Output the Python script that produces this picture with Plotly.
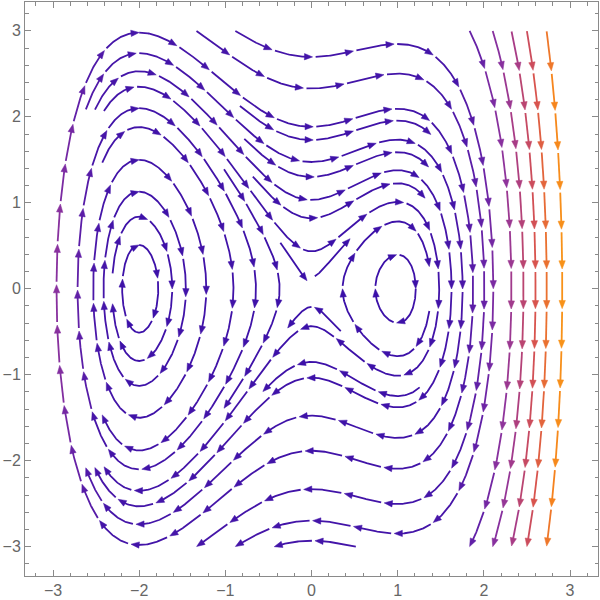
import numpy as np
import plotly.graph_objects as go

# ---------------- data ----------------
# Vector field (Hamiltonian):  dx/dt = y ,  dy/dt = -(x^3 + x^2 - 2 x)
u_coef_y = 1.0
v_poly = [-1.0, -1.0, 2.0, 0.0]          # coefficients of x^3, x^2, x, 1

x_range = [-3.0, 3.0]
y_range = [-3.0, 3.0]

# streamline seed points (processed in this order)
seeds_left_x = -2.0
seeds_left_y = [2.98, 2.74, 2.53, 2.35, 2.10, 1.88, 1.50, 1.13, 0.84, 0.51,
                -0.53, -0.82, -1.14, -1.51, -1.91, -2.11, -2.37, -2.59, -2.77, -2.99]
seeds_right_x = [2.91, 2.73, 2.60, 2.46, 2.32, 2.11, 2.0, 1.88, 1.64, 1.48, 1.21, 0.36]
seeds_mid_y = [2.74, 2.33, 1.93, 1.73, 1.52, 1.30, 1.09, 0.82, 0.51,
               -0.21, -0.50, -0.85, -1.14, -1.54, -1.91, -2.32, -2.72, -2.93]
seeds_left_axis_x = [-2.95, -2.83, -2.64, -2.52, -2.41, -2.19, -1.76, -1.625,
                     -1.44, -1.21, -0.88, -0.62, -0.37]
# separatrix branches next to the saddle
extra_seeds_x = [-0.25, 0.30, 0.30, -0.25]
extra_seeds_y = [0.37, 0.42, -0.42, -0.37]

# speed colour scale (normalised speed -> colour)
color_stops = [0.0, 0.15, 0.27, 0.37, 0.45, 0.63, 0.80, 1.0]
color_rgb = [(58, 16, 168), (72, 22, 168), (106, 35, 166), (138, 50, 158),
             (162, 58, 140), (215, 82, 80), (245, 130, 30), (250, 160, 20)]

tick_vals = [-3, -2, -1, 0, 1, 2, 3]

# ---------------- streamline computation ----------------
def field(p):
    x, y = p
    return np.array([u_coef_y * y, np.polyval(v_poly, x)])

def speed(p):
    return float(np.hypot(*field(p)))

smax = max(speed((x, y)) for x in np.linspace(*x_range, 61) for y in np.linspace(*y_range, 61))

def unit(p):
    f = field(p)
    n = np.hypot(*f)
    return f / n if n > 1e-9 else np.zeros(2)

DS = 0.01
DTEST = 0.10
DSEED = 0.12
VMIN = 0.14

class Grid:
    def __init__(self, h):
        self.h = h
        self.cells = {}
    def key(self, p):
        return (int(np.floor(p[0] / self.h)), int(np.floor(p[1] / self.h)))
    def add(self, p):
        self.cells.setdefault(self.key(p), []).append(p)
    def near(self, p, d):
        i, j = self.key(p)
        for a in (i - 1, i, i + 1):
            for b in (j - 1, j, j + 1):
                for q in self.cells.get((a, b), ()):
                    if (q[0] - p[0]) ** 2 + (q[1] - p[1]) ** 2 < d * d:
                        return True
        return False

grid = Grid(max(DTEST, DSEED))

def inside(p):
    return x_range[0] <= p[0] <= x_range[1] and y_range[0] <= p[1] <= y_range[1]

def integrate(seed, direction):
    p = np.array(seed, float)
    pts = []
    length = 0.0
    closed = False
    for _ in range(4000):
        k1 = unit(p)
        k2 = unit(p + 0.5 * DS * direction * k1)
        k3 = unit(p + 0.5 * DS * direction * k2)
        k4 = unit(p + DS * direction * k3)
        step = direction * (k1 + 2 * k2 + 2 * k3 + k4) / 6.0
        if np.hypot(*step) < 1e-6:
            break
        q = p + DS * step
        if not inside(q) or speed(q) < VMIN:
            break
        if grid.near(q, DTEST):
            break
        length += DS
        if length > 0.3 and np.hypot(q[0] - seed[0], q[1] - seed[1]) < 1.5 * DS:
            pts.append(np.array(seed, float))
            closed = True
            break
        pts.append(q)
        p = q
    return pts, closed

seeds = [(seeds_left_x, y) for y in seeds_left_y] + \
        [(x, 0.0) for x in seeds_right_x] + \
        [(0.0, y) for y in seeds_mid_y] + \
        [(x, 0.0) for x in seeds_left_axis_x] + \
        list(zip(extra_seeds_x, extra_seeds_y))

lines = []
for s in seeds:
    if grid.near(s, DSEED):
        continue
    fwd, closed = integrate(s, 1.0)
    if closed:
        line = [np.array(s, float)] + fwd
    else:
        bwd, _ = integrate(s, -1.0)
        line = bwd[::-1] + [np.array(s, float)] + fwd
    line = np.array(line)
    if len(line) < 15:
        continue
    for q in line:
        grid.add(q)
    lines.append(line)

# ---------------- arrows / segments ----------------
def color_of(t):
    t = min(max(t, 0.0), 1.0)
    for i in range(len(color_stops) - 1):
        if t <= color_stops[i + 1]:
            f = (t - color_stops[i]) / (color_stops[i + 1] - color_stops[i])
            c = [color_rgb[i][k] + f * (color_rgb[i + 1][k] - color_rgb[i][k]) for k in range(3)]
            return "rgb(%d,%d,%d)" % tuple(int(round(v)) for v in c)
    return "rgb(%d,%d,%d)" % color_rgb[-1]

LSEG = 0.47
GAP = 0.035
ALEN = 0.095
AHW = 0.037
NBINS = 48

seg_x = {}
seg_y = {}
arr_x = {}
arr_y = {}

def interp(line, s_cum, s):
    return np.array([np.interp(s, s_cum, line[:, 0]), np.interp(s, s_cum, line[:, 1])])

for line in lines:
    d = np.hypot(np.diff(line[:, 0]), np.diff(line[:, 1]))
    s_cum = np.concatenate([[0], np.cumsum(d)])
    L = s_cum[-1]
    n = max(1, int(round(L / LSEG)))
    sl = L / n
    for k in range(n):
        s0 = k * sl + (GAP if k > 0 else 0.0)
        s1 = (k + 1) * sl
        mid = interp(line, s_cum, 0.5 * (s0 + s1))
        b = int(min(NBINS - 1, speed(mid) / smax * NBINS))
        ss = np.linspace(s0, s1 - 0.6 * ALEN, max(3, int((s1 - s0) / 0.01)))
        xs = np.interp(ss, s_cum, line[:, 0])
        ys = np.interp(ss, s_cum, line[:, 1])
        seg_x.setdefault(b, []).extend(list(xs) + [None])
        seg_y.setdefault(b, []).extend(list(ys) + [None])
        tip = interp(line, s_cum, s1)
        base = interp(line, s_cum, max(0.0, s1 - ALEN))
        dv = tip - base
        nv = np.hypot(*dv)
        if nv < 1e-9:
            continue
        dv = dv / nv
        base = tip - dv * ALEN
        nrm = np.array([-dv[1], dv[0]])
        p1 = base + nrm * AHW
        p2 = base - nrm * AHW
        arr_x.setdefault(b, []).extend([tip[0], p1[0], p2[0], tip[0], None])
        arr_y.setdefault(b, []).extend([tip[1], p1[1], p2[1], tip[1], None])

fig = go.Figure()
for b in sorted(seg_x):
    col = color_of((b + 0.5) / NBINS)
    fig.add_trace(go.Scatter(x=seg_x[b], y=seg_y[b], mode="lines",
                             line=dict(color=col, width=1.8), hoverinfo="skip",
                             showlegend=False))
for b in sorted(arr_x):
    col = color_of((b + 0.5) / NBINS)
    fig.add_trace(go.Scatter(x=arr_x[b], y=arr_y[b], mode="lines", fill="toself",
                             fillcolor=col, line=dict(color=col, width=0.5),
                             hoverinfo="skip", showlegend=False))

axis_common = dict(
    showgrid=False, zeroline=False, showline=True, linecolor="#8a8a8a", linewidth=1,
    mirror="ticks", ticks="inside", ticklen=6, tickcolor="#8a8a8a", tickwidth=1,
    tickvals=tick_vals, tickfont=dict(family="Liberation Sans, Arial, sans-serif",
                                      size=16, color="#666666"),
    minor=dict(ticks="inside", ticklen=3.5, dtick=0.2, tickcolor="#8a8a8a", tickwidth=1),
)
fig.update_xaxes(range=[-3.325, 3.325], **axis_common)
fig.update_yaxes(range=[-3.34, 3.335], **axis_common)
fig.update_layout(width=600, height=600, margin=dict(l=25, r=1, t=1, b=23),
                  plot_bgcolor="white", paper_bgcolor="white")
fig.write_html("out.html", config={"displayModeBar": False},
               post_script="document.body.style.margin='0';")
